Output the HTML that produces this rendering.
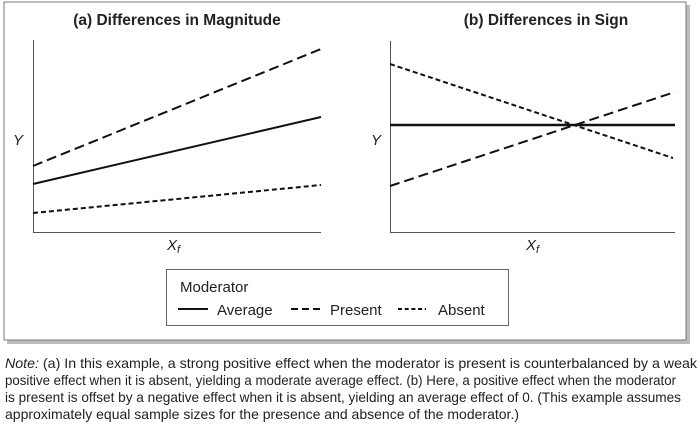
<!DOCTYPE html>
<html><head><meta charset="utf-8"><style>
body{margin:0;background:#fff;}
svg{display:block;font-family:"Liberation Sans",Arial,sans-serif;}
</style></head><body>
<svg width="700" height="425" viewBox="0 0 700 425">
<rect x="7" y="5" width="683" height="339" fill="#bbb"/>
<rect x="4" y="2" width="682" height="338" fill="#fff" stroke="#777" stroke-width="1"/>
<text x="177" y="25" font-size="15.5" font-weight="bold" text-anchor="middle" fill="#222">(a) Differences in Magnitude</text>
<text x="546" y="25" font-size="15.5" font-weight="bold" text-anchor="middle" fill="#222">(b) Differences in Sign</text>
<g stroke="#555" stroke-width="1" fill="none">
<polyline points="33.5,40 33.5,232.5 321,232.5"/>
<polyline points="390.5,41 390.5,232.5 675,232.5"/>
</g>
<g stroke="#111" fill="none" stroke-width="2">
<line x1="33" y1="166" x2="321" y2="49" stroke-dasharray="10,5"/>
<line x1="33" y1="184" x2="321" y2="117"/>
<line x1="33" y1="213" x2="321" y2="185" stroke-dasharray="5,3"/>
<line x1="390" y1="125" x2="675" y2="125" stroke-width="2.5"/>
<line x1="390" y1="64" x2="673" y2="158" stroke-dasharray="5,3"/>
<line x1="390" y1="186" x2="675" y2="92" stroke-dasharray="10,5"/>
</g>
<g font-size="15" font-style="italic" fill="#222">
<text x="13" y="145">Y</text>
<text x="371" y="145">Y</text>
<text x="167" y="250">X<tspan font-size="11" dy="3">f</tspan></text>
<text x="526" y="250">X<tspan font-size="11" dy="3">f</tspan></text>
</g>
<rect x="166.5" y="269.5" width="342" height="56" fill="#fff" stroke="#666"/>
<g font-size="15" fill="#222">
<text x="180" y="292">Moderator</text>
<text x="217" y="315">Average</text>
<text x="330" y="315">Present</text>
<text x="438" y="315">Absent</text>
</g>
<g stroke="#111" stroke-width="2">
<line x1="178" y1="309" x2="208" y2="309"/>
<line x1="291" y1="309" x2="321" y2="309" stroke-dasharray="7,4"/>
<line x1="398" y1="309" x2="426" y2="309" stroke-dasharray="4,2.7"/>
</g>
<g font-size="14" fill="#222">
<text x="5" y="368" textLength="692" lengthAdjust="spacingAndGlyphs"><tspan font-style="italic">Note:</tspan> (a) In this example, a strong positive effect when the moderator is present is counterbalanced by a weak</text>
<text x="5" y="385" textLength="671" lengthAdjust="spacingAndGlyphs">positive effect when it is absent, yielding a moderate average effect. (b) Here, a positive effect when the moderator</text>
<text x="5" y="402" textLength="676" lengthAdjust="spacingAndGlyphs">is present is offset by a negative effect when it is absent, yielding an average effect of 0. (This example assumes</text>
<text x="5" y="419" textLength="514" lengthAdjust="spacingAndGlyphs">approximately equal sample sizes for the presence and absence of the moderator.)</text>
</g>
</svg>
</body></html>
